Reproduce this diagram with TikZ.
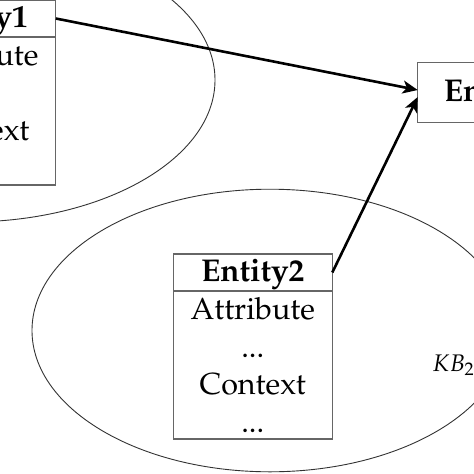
\documentclass[tikz,border=0pt]{standalone}
\usepackage[T1]{fontenc}
\usepackage{mathpazo}
\usetikzlibrary{arrows.meta}
\definecolor{boxgray}{gray}{0.4}
\definecolor{ellgray}{gray}{0.2}
\begin{document}
\begin{tikzpicture}[x=1pt,y=-1pt,
  box/.style={draw=boxgray,line width=1.1pt,inner sep=0pt,outer sep=0pt,minimum width=159pt},
  head/.style={box,minimum height=37pt,font=\fontsize{31.5}{37.5}\selectfont\bfseries,text height=22pt,text depth=3.6pt},
  body/.style={box,minimum height=148pt,align=center,font=\fontsize{30.5}{37.5}\selectfont},
  kb/.style={draw=ellgray,line width=0.9pt},
  link/.style={line width=2.6pt,-{Stealth[length=15pt,width=13pt,inset=4pt]}}]
\useasboundingbox (0,0) rectangle (474,474);
\clip (0,0) rectangle (474,474);
\draw[kb] (-32,80) ellipse [x radius=247,y radius=142];
\draw[kb] (270,330.5) ellipse [x radius=238,y radius=141.3];
\node[head] (e1h) at (-23.7,18.5) {Entity1};
\node[body,anchor=north] (e1b) at (e1h.south) {Attribute\\...\\Context\\...};
\node[head] (e2h) at (252.8,272.5) {Entity2};
\node[body,anchor=north] (e2b) at (e2h.south) {Attribute\\...\\Context\\...};
\node[head,minimum width=140pt,minimum height=60pt] (e3) at (487.7,92.7) {Entity};
\node[anchor=base west,font=\fontsize{24}{28}\selectfont,inner sep=0pt] (kb2) at (432.3,371.7) {$KB_2$};
\draw[link] (e1h.east) -- ([yshift=2.7pt]e3.west);
\draw[link] (e2h.east) -- ([yshift=-4.3pt]e3.west);
\end{tikzpicture}
\end{document}
